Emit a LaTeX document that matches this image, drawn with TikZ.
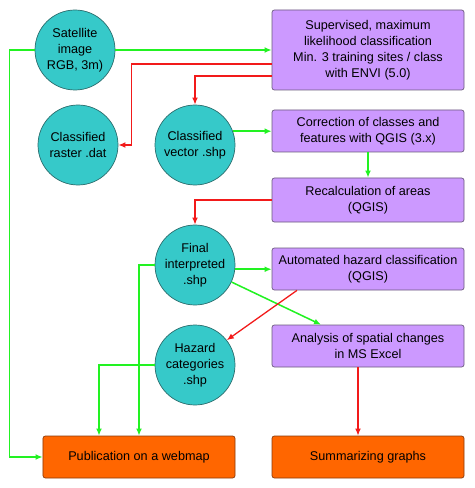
\documentclass[tikz,border=0pt]{standalone}
\usepackage{fontspec}
\setmainfont{Liberation Sans}
\usepackage{xcolor}
\usepackage{tikz}
\usetikzlibrary{arrows.meta,calc}

\definecolor{circfill}{HTML}{36C9C9}
\definecolor{circline}{HTML}{2B6C6C}
\definecolor{boxfill}{HTML}{CC99FF}
\definecolor{boxline}{HTML}{6A5A7C}
\definecolor{outfill}{HTML}{FF6600}
\definecolor{outline}{HTML}{8A3A0A}
\definecolor{flowgreen}{HTML}{22F222}
\definecolor{flowred}{HTML}{F21A1A}

\tikzset{
  datacirc/.style={circle,draw=circline,fill=circfill,line width=0.6pt,
    minimum size=2.4cm,inner sep=0pt,align=center,
    font=\fontsize{10.8}{13.6}\selectfont},
  toolbox/.style={rectangle,rounded corners=2pt,draw=boxline,fill=boxfill,
    line width=0.6pt,minimum width=5.76cm,align=center,
    font=\fontsize{10.8}{13.6}\selectfont},
  outbox/.style={toolbox,draw=outline,fill=outfill,minimum height=1.26cm},
  greenarrow/.style={draw=flowgreen,line width=1.3pt,-{Latex[length=6pt,width=5pt]}},
  redarrow/.style={draw=flowred,line width=1.1pt,-{Latex[length=6pt,width=5pt]}}
}

\begin{document}
\begin{tikzpicture}[x=0.03cm,y=-0.03cm]
    \useasboundingbox (0,0) rectangle (474,488);

    % data sets
    \node[datacirc] (sat) at (75,50) {Satellite\\image\\RGB, 3m)};
    \node[datacirc] (raster) at (78,145) {Classified\\raster .dat};
    \node[datacirc] (vector) at (195,145) {Classified\\vector .shp};
    \node[datacirc] (final) at (195,265) {Final\\interpreted\\.shp};
    \node[datacirc] (hazard) at (195,365) {Hazard\\categories\\.shp};

    % processing steps
    \node[toolbox,minimum height=2.4cm] (sup) at (368,50)
      {Supervised, maximum\\likelihood classification\\Min. 3 training sites / class\\with ENVI (5.0)};
    \node[toolbox,minimum height=1.26cm] (corr) at (368,131)
      {Correction of classes and\\features with QGIS (3.x)};
    \node[toolbox,minimum height=1.32cm] (recalc) at (368,200)
      {Recalculation of areas\\(QGIS)};
    \node[toolbox,minimum height=1.26cm] (auto) at (368,269)
      {Automated hazard classification\\(QGIS)};
    \node[toolbox,minimum height=1.26cm] (anal) at (368,346)
      {Analysis of spatial changes\\in MS Excel};

    % outputs
    \node[outbox] (pub) at (139,457) {Publication on a webmap};
    \node[outbox] (summ) at (368,457) {Summarizing graphs};

    % connectors
    \draw[greenarrow] (sat.east) -- (sup.west);
    \draw[greenarrow] (sat.west) -- ++(-25,0) |- (pub.west);
    \draw[redarrow] ($(sup.west)+(0,14)$) -| ($(raster.east)+(13,0)$) -- (raster.east);
    \draw[redarrow] ($(sup.west)+(0,26)$) -| (vector.north);
    \draw[greenarrow] (vector.20) -- (vector.20 -| corr.west);
    \draw[greenarrow] (corr.south) -- (recalc.north);
    \draw[redarrow] (recalc.west) -| (final.north);
    \draw[greenarrow] (final.-6) -- (final.-6 -| auto.west);
    \draw[greenarrow] (final.-25) -- ($(anal.north)+(-47,0)$);
    \draw[redarrow] ($(auto.south)+(-71,0)$) -- (hazard.38);
    \draw[greenarrow] (final.west) -| (pub.north);
    \draw[greenarrow] (hazard.west) -| ($(pub.north)+(-40,0)$);
    \draw[redarrow] ($(anal.south)+(-10,0)$) -- ($(summ.north)+(-10,0)$);
\end{tikzpicture}
\end{document}
